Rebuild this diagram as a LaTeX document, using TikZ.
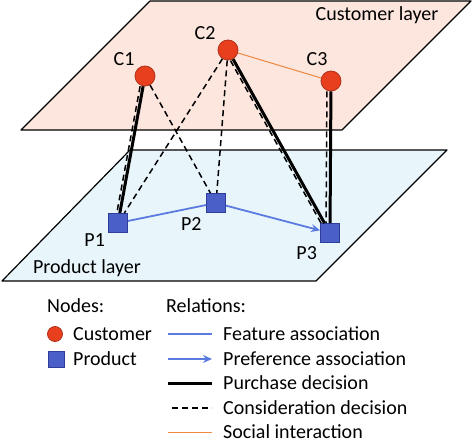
\documentclass[tikz,border=0pt]{standalone}
\usepackage{fontspec}
\setmainfont{Carlito}
\usetikzlibrary{arrows.meta, positioning}
\definecolor{cred}{HTML}{E8401E}
\definecolor{credd}{HTML}{B0301A}
\definecolor{pblue}{HTML}{4A60C8}
\definecolor{pblued}{HTML}{2E3E9A}
\definecolor{lblue}{HTML}{5B7BE0}
\definecolor{sorange}{HTML}{EE8840}
\definecolor{cpink}{HTML}{FCE6DE}
\definecolor{pcyan}{HTML}{E8F6FC}
\tikzstyle{customer} = [circle, minimum size=20pt, inner sep=0pt, fill=cred, draw=credd, line width=0.8pt]
\tikzstyle{product} = [rectangle, minimum size=19pt, inner sep=0pt, fill=pblue, draw=pblued, line width=0.8pt]
\tikzstyle{plane} = [draw=black, line width=1.2pt, line join=round]
\tikzstyle{feature} = [line width=1.8pt, lblue]
\tikzstyle{preference} = [line width=1.8pt, lblue, -{Stealth[length=9pt,width=8pt]}]
\tikzstyle{purchase} = [line width=3pt, black]
\tikzstyle{consider} = [line width=1.5pt, black, dash pattern=on 6pt off 4pt]
\tikzstyle{social} = [line width=1pt, sorange]
\tikzstyle{txt} = [inner sep=3pt]

\begin{document}
\begin{tikzpicture}[x=1pt, y=-1pt, font=\fontsize{20}{24}\selectfont, node distance=0pt]
  \useasboundingbox (0,0) rectangle (474,439);
  % layers
  \filldraw [plane, fill=cpink] (21,130) -- (342,130) -- (471,1) -- (150,1) -- cycle;
  \filldraw [plane, fill=pcyan] (2,281) -- (316,281) -- (447,150) -- (130,150) -- cycle;
  \node (clayer) [txt, anchor=center] at (377,15) {Customer layer};
  \node (player) [txt, anchor=center] at (87,268) {Product layer};
  % nodes
  \node (c1) [customer] at (145,76) {};
  \node (c2) [customer] at (228,50) {};
  \node (c3) [customer] at (331,81) {};
  \node (p1) [product] at (118,223) {};
  \node (p2) [product] at (216,203) {};
  \node (p3) [product] at (330,233) {};
  \node (c1lab) [txt, above left=of c1] {C1};
  \node (c2lab) [txt, above left=of c2, xshift=-2pt] {C2};
  \node (c3lab) [txt, above=2pt of c3, xshift=-14pt] {C3};
  \node (p1lab) [txt, below left=of p1, yshift=2pt] {P1};
  \node (p2lab) [txt, below left=2pt of p2] {P2};
  \node (p3lab) [txt, below left=of p3] {P3};
  % relations
  \draw [social] (c2) -- (c3);
  \draw [feature] (p1) -- (p2);
  \draw [preference] (p2) -- (p3);
  \draw [purchase] (c1) -- (p1);
  \draw [consider, transform canvas={xshift=-3pt}] (c1) -- (p1);
  \draw [consider] (c1) -- (p2);
  \draw [consider] (c2) -- (p1);
  \draw [consider] (c2) -- (p2);
  \draw [purchase] (c2) -- (p3);
  \draw [consider, transform canvas={xshift=-2.6pt, yshift=-1.5pt}] (c2) -- (p3);
  \draw [purchase] (c3) -- (p3);
  \draw [consider, transform canvas={xshift=-4pt}] (c3) -- (p3);
  % legend
  \node (nodes) [txt, anchor=west] at (44,306) {Nodes:};
  \node (rels) [txt, anchor=west] at (163,306) {Relations:};
  \node (lcust) [customer, minimum size=15pt] at (55,334) {};
  \node (lprod) [product, minimum size=16pt] at (56,359) {};
  \node (tcust) [txt, anchor=west] at (70,334) {Customer};
  \node (tprod) [txt, anchor=west] at (70,359) {Product};
  \coordinate (fa) at (168,334); \coordinate (fb) at (212,334);
  \coordinate (pa) at (168,359); \coordinate (pb) at (212,359);
  \coordinate (ua) at (168,383); \coordinate (ub) at (212,383);
  \coordinate (ka) at (172,408); \coordinate (kb) at (212,408);
  \coordinate (sa) at (168,432); \coordinate (sb) at (212,432);
  \draw [feature] (fa) -- (fb);
  \draw [preference] (pa) -- (pb);
  \draw [purchase] (ua) -- (ub);
  \draw [consider] (ka) -- (kb);
  \draw [social] (sa) -- (sb);
  \node (tfeat) [txt, anchor=west] at (220,334) {Feature association};
  \node (tpref) [txt, anchor=west] at (220,359) {Preference association};
  \node (tpurc) [txt, anchor=west] at (220,383) {Purchase decision};
  \node (tcons) [txt, anchor=west] at (220,408) {Consideration decision};
  \node (tsoc) [txt, anchor=west] at (220,432) {Social interaction};
\end{tikzpicture}
\end{document}
